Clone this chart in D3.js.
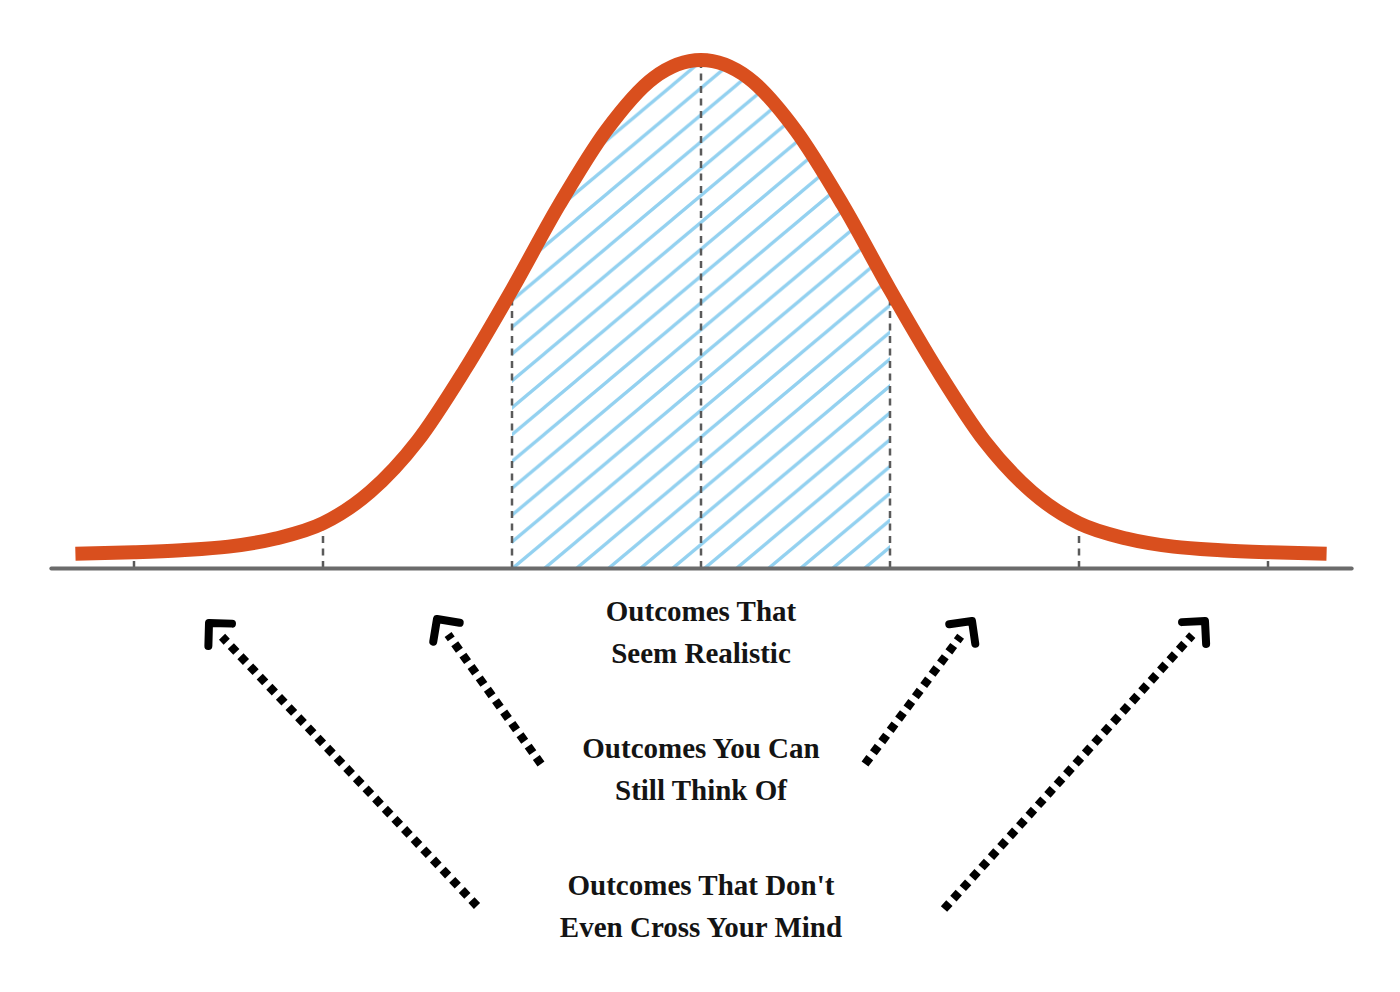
<!DOCTYPE html>
<html>
<head>
<meta charset="utf-8">
<script src="https://cdn.jsdelivr.net/npm/d3@7"></script>
<style>
  html, body { margin: 0; padding: 0; background: #fff; }
  svg { display: block; }
  .label { font-family: "Liberation Serif", "DejaVu Serif", serif; font-weight: bold; font-size: 29px; fill: #141414; }
</style>
</head>
<body>
<div id="viz"></div>
<script>
// curve: x in standard deviations, y relative to the peak
var curveZ = [-3.31, -3.0, -2.75, -2.5, -2.25, -2.0, -1.75, -1.5, -1.25, -1.0, -0.75, -0.5, -0.25, 0,
              0.25, 0.5, 0.75, 1.0, 1.25, 1.5, 1.75, 2.0, 2.25, 2.5, 2.75, 3.0, 3.31];
var curveY = [0.028, 0.031, 0.035, 0.042, 0.058, 0.088, 0.150, 0.250, 0.390, 0.548, 0.715, 0.862, 0.965, 1.000,
              0.965, 0.862, 0.715, 0.548, 0.390, 0.250, 0.150, 0.088, 0.058, 0.042, 0.035, 0.031, 0.028];

// dashed guides at each standard deviation, up to the curve
var guideZ = [-3, -2, -1, 0, 1, 2, 3];
var guideTop = [0.031, 0.088, 0.548, 1.000, 0.548, 0.088, 0.031];

// shaded band
var bandFrom = -1, bandTo = 1;

var labels = [
  ["Outcomes That", "Seem Realistic"],
  ["Outcomes You Can", "Still Think Of"],
  ["Outcomes That Don't", "Even Cross Your Mind"]
];

width = 1400;
height = 992;

var svg = d3.select("#viz").append("svg")
  .attr("width", width)
  .attr("height", height);

svg.append("rect").attr("width", width).attr("height", height).attr("fill", "#fff");

var x = d3.scaleLinear().domain([-3, 3]).range([134, 1268]);
var y = d3.scaleLinear().domain([0, 1]).range([568, 60]);

var pts = curveZ.map(function(z, i) { return [z, curveY[i]]; });

// hatch pattern
var defs = svg.append("defs");
var pw = 32, ph = 32 * Math.tan(40 * Math.PI / 180);
defs.append("pattern")
  .attr("id", "hatch")
  .attr("patternUnits", "userSpaceOnUse")
  .attr("x", x(bandFrom) + 1)
  .attr("y", y(0) - ph)
  .attr("width", pw)
  .attr("height", ph)
  .append("path")
  .attr("d", "M0," + ph + "L" + pw + ",0" +
             "M" + (-pw/2) + "," + (ph/2) + "L" + (pw/2) + "," + (-ph/2) +
             "M" + (pw/2) + "," + (1.5*ph) + "L" + (1.5*pw) + "," + (ph/2))
  .attr("stroke", "#93d1f0")
  .attr("stroke-width", 3.3);

defs.append("clipPath").attr("id", "band")
  .append("rect")
  .attr("x", x(bandFrom))
  .attr("y", 0)
  .attr("width", x(bandTo) - x(bandFrom))
  .attr("height", y(0));

var area = d3.area()
  .x(function(d) { return x(d[0]); })
  .y0(y(0))
  .y1(function(d) { return y(d[1]); })
  .curve(d3.curveMonotoneX);

svg.append("path")
  .datum(pts)
  .attr("clip-path", "url(#band)")
  .attr("d", area)
  .attr("fill", "url(#hatch)");

// dashed guides
svg.append("g").selectAll("line").data(guideZ).enter().append("line")
  .attr("x1", function(d) { return x(d); })
  .attr("x2", function(d) { return x(d); })
  .attr("y1", y(0))
  .attr("y2", function(d, i) { return y(guideTop[i]) + 7; })
  .attr("stroke", "#5a5a5a")
  .attr("stroke-width", 2.5)
  .attr("stroke-dasharray", "7,5.5");

// baseline axis
var axisScale = x.copy().domain([-3.44, 3.44]).range([x(-3.44), x(3.44)]);
svg.append("g")
  .attr("transform", "translate(0," + y(0) + ")")
  .call(d3.axisBottom(axisScale).tickValues([]).tickSizeOuter(0))
  .select(".domain")
  .attr("stroke", "#6b6b6b")
  .attr("stroke-width", 4)
  .attr("stroke-linecap", "round");

// the curve
var line = d3.line()
  .x(function(d) { return x(d[0]); })
  .y(function(d) { return y(d[1]); })
  .curve(d3.curveMonotoneX);

svg.append("path")
  .datum(pts)
  .attr("d", line)
  .attr("fill", "none")
  .attr("stroke", "#d94f1e")
  .attr("stroke-width", 14);

// dotted arrows (annotation layout)
var arrows = [
  {tail: [477, 906], tip: [209, 623]},
  {tail: [541, 764], tip: [437, 619]},
  {tail: [865, 764], tip: [972, 621]},
  {tail: [944, 909], tip: [1205, 621]}
];

var ag = svg.append("g");
arrows.forEach(function(a) {
  var dx = a.tip[0] - a.tail[0], dy = a.tip[1] - a.tail[1];
  var len = Math.sqrt(dx*dx + dy*dy);
  var ux = dx / len, uy = dy / len;
  var stop = 19;
  ag.append("line")
    .attr("x1", a.tail[0]).attr("y1", a.tail[1])
    .attr("x2", a.tip[0] - ux*stop).attr("y2", a.tip[1] - uy*stop)
    .attr("stroke", "#000")
    .attr("stroke-width", 8.5)
    .attr("stroke-dasharray", "8,6");
  // chevron
  var bx = -ux, by = -uy, c = Math.SQRT1_2, arm = 23;
  var a1 = [a.tip[0] + arm*(bx*c - by*c), a.tip[1] + arm*(bx*c + by*c)];
  var a2 = [a.tip[0] + arm*(bx*c + by*c), a.tip[1] + arm*(-bx*c + by*c)];
  ag.append("path")
    .attr("d", "M" + a1 + "L" + a.tip + "L" + a2)
    .attr("fill", "none")
    .attr("stroke", "#000")
    .attr("stroke-width", 8)
    .attr("stroke-linecap", "round")
    .attr("stroke-linejoin", "round");
});

// labels
var baselines = [621, 758, 895];
labels.forEach(function(lines, i) {
  svg.append("text")
    .attr("class", "label")
    .attr("text-anchor", "middle")
    .selectAll("tspan").data(lines).enter().append("tspan")
    .attr("x", x(0))
    .attr("y", function(d, j) { return baselines[i] + j * 41.5; })
    .text(function(d) { return d; });
});
</script>
</body>
</html>
